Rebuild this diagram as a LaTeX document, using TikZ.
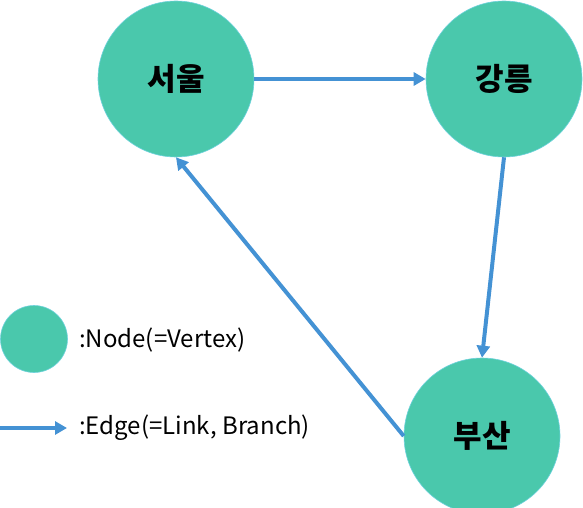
\documentclass[tikz,border=0pt]{standalone}
\usepackage{fontspec}
\setmainfont{Noto Sans CJK KR}
\usetikzlibrary{arrows.meta}
\definecolor{vertexgreen}{RGB}{74,200,172}
\definecolor{vertexrim}{RGB}{110,210,220}
\definecolor{edgeblue}{RGB}{68,146,212}
\begin{document}
\begin{tikzpicture}[x=1pt,y=-1pt,
    vertex/.style={circle,fill=vertexgreen,draw=vertexrim,line width=.6pt,inner sep=0pt},
    link/.style={draw=edgeblue,line width=4pt,-{Triangle[length=12pt,width=13pt]}}]

      \useasboundingbox (0,0) rectangle (583,508);

      \begin{scope}[every node/.style={vertex,minimum size=156pt,font=\fontsize{31}{34}\selectfont\bfseries}]
        \node (seoul)     at (176,79)  {서울};
        \node (gangneung) at (504,79)  {강릉};
        \node (busan)     at (482,436) {부산};
      \end{scope}

      \path[link] (seoul.east) -- (gangneung.west);
      \path[link] (gangneung.south) -- (busan.north);
      \path[link] (busan.west) -- (seoul.south);

      % legend
      \node[vertex,minimum size=67pt] (legnode) at (34,339) {};
      \coordinate (legfrom) at (0,428);
      \coordinate (legto)   at (67,428);
      \path[link] (legfrom) -- (legto);

      \begin{scope}[every node/.style={anchor=west,inner sep=0pt,font=\fontsize{24}{28}\selectfont}]
        \node (legnodetext) at (79,340) {:Node(=Vertex)};
        \node (legedgetext) at (79,428) {:Edge(=Link, Branch)};
      \end{scope}

    \end{tikzpicture}
\end{document}
